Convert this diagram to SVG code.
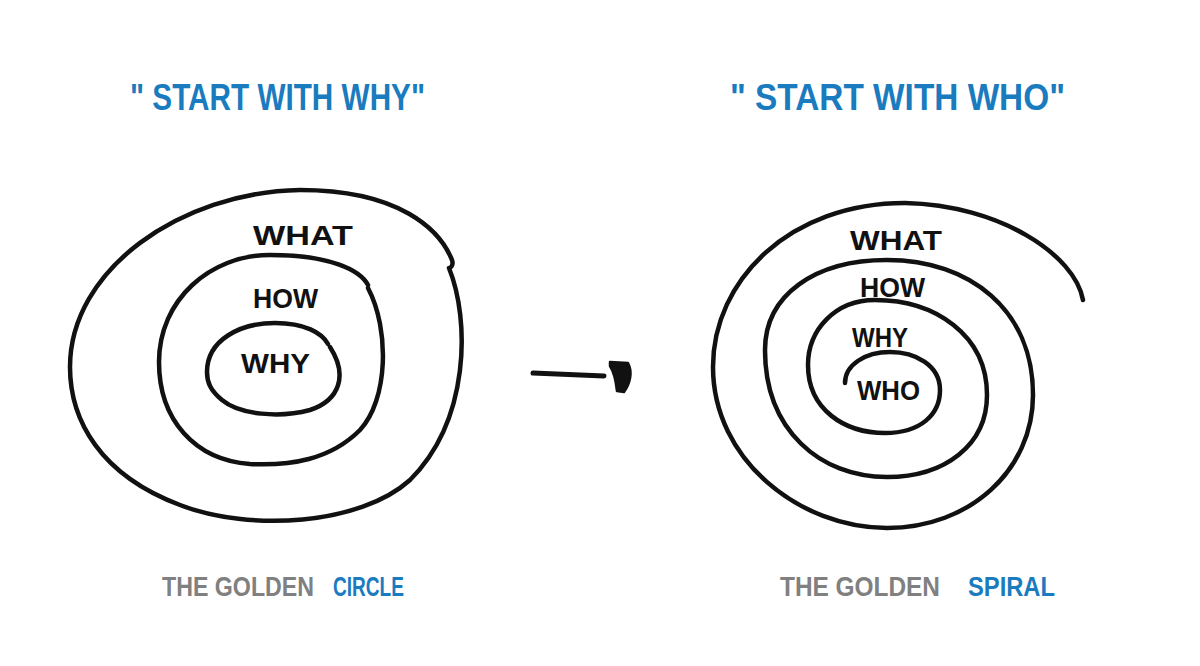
<svg xmlns="http://www.w3.org/2000/svg" width="1200" height="666" viewBox="0 0 1200 666">
<style>
.ring{fill:none;stroke:#111;stroke-width:4.5;stroke-linecap:round;stroke-linejoin:round}
.title{font-family:"Liberation Sans",Arial,sans-serif;font-weight:bold;font-size:36px;fill:#1a7bbf}
.lbl{font-family:"Liberation Sans",Arial,sans-serif;font-weight:bold;font-size:28px;fill:#111}
.cap{font-family:"Liberation Sans",Arial,sans-serif;font-weight:bold;font-size:27px;fill:#808080}
.blue{fill:#1a7bbf}
</style>
<rect width="1200" height="666" fill="#fff"/>
<g id="title-left"><text class="title" x="130" y="110" textLength="295" lengthAdjust="spacingAndGlyphs">" START WITH WHY"</text></g>
<g id="title-right"><text class="title" x="730" y="110" textLength="335" lengthAdjust="spacingAndGlyphs">" START WITH WHO"</text></g>
<g id="golden-circle">
<path class="ring" d="M449,268 C470,320 470,420 410,480 C360,525 250,532 180,505 C100,475 70,420 70,367 C70,270 180,192 300,190 C400,190 440,230 452,260 C454,266 450,268 449,268"/>
<path class="ring" d="M368,288 C390,330 388,400 360,430 C330,460 290,466 250,464 C195,460 159,420 159,362 C159,300 210,255 270,255 C330,255 360,270 368,285"/>
<path class="ring" d="M330,347 C348,375 340,400 310,410 C280,418 240,415 222,400 C210,390 207,382 207,372 C207,340 240,323 275,323 C305,323 322,333 328,344"/>
</g>
<g id="label-what-left"><text class="lbl" x="253" y="245" textLength="100" lengthAdjust="spacingAndGlyphs">WHAT</text></g>
<g id="label-how-left"><text class="lbl" x="253" y="308" textLength="65" lengthAdjust="spacingAndGlyphs">HOW</text></g>
<g id="label-why-left"><text class="lbl" x="241" y="373" textLength="69" lengthAdjust="spacingAndGlyphs">WHY</text></g>
<g id="connectors">
<path d="M533,373 L604,376" fill="none" stroke="#111" stroke-width="5" stroke-linecap="round"/>
<path d="M610,362 L628,363 C633,372 630,384 624,392 L617,391 C616,382 614,372 610,366 Z" fill="#111" stroke="#111" stroke-width="2.5" stroke-linejoin="round"/>
</g>
<g id="golden-spiral">
<path class="ring" d="M1083,300 C1075,255 1000,205 905,203 C790,203 713,280 713,367 C713,460 800,528 887,528 C970,528 1033,470 1033,395 C1033,310 970,260 887,260 C815,260 765,295 765,350 C765,430 820,477 887,477 C945,477 987,445 987,395 C987,335 935,300 875,300 C835,300 808,330 808,365 C808,410 845,433 885,433 C920,433 940,415 940,390 C940,365 915,352 890,352 C865,352 845,365 845,383"/>
</g>
<g id="label-what-right"><text class="lbl" x="850" y="250" textLength="92" lengthAdjust="spacingAndGlyphs">WHAT</text></g>
<g id="label-how-right"><text class="lbl" x="860" y="297" textLength="65" lengthAdjust="spacingAndGlyphs">HOW</text></g>
<g id="label-why-right"><text class="lbl" x="852" y="347" textLength="56" lengthAdjust="spacingAndGlyphs">WHY</text></g>
<g id="label-who-right"><text class="lbl" x="857" y="400" textLength="63" lengthAdjust="spacingAndGlyphs">WHO</text></g>
<g id="caption-left"><text class="cap" x="162" y="596"><tspan textLength="152" lengthAdjust="spacingAndGlyphs">THE GOLDEN</tspan><tspan class="blue" x="333" textLength="71" lengthAdjust="spacingAndGlyphs">CIRCLE</tspan></text></g>
<g id="caption-right"><text class="cap" x="780" y="596"><tspan textLength="160" lengthAdjust="spacingAndGlyphs">THE GOLDEN</tspan><tspan class="blue" x="968" textLength="87" lengthAdjust="spacingAndGlyphs">SPIRAL</tspan></text></g>
</svg>
